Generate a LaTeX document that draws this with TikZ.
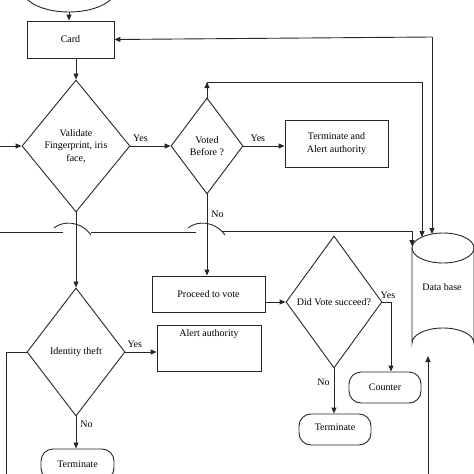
\documentclass[tikz,border=0pt]{standalone}
\usepackage{fontspec}
\setmainfont{Liberation Serif}
\usetikzlibrary{shapes.geometric,arrows.meta}
\begin{document}
\begin{tikzpicture}[x=1pt,y=-1pt,
  every node/.style={font=\fontsize{10}{12.5}\selectfont},
  ln/.style={line width=0.9pt,draw=black!85},
  arr/.style={ln,-{Triangle[length=6pt,width=5pt]}},
  boxn/.style={draw=black!85,line width=0.9pt,rectangle,inner sep=0pt},
  termn/.style={draw=black!85,line width=0.9pt,rectangle,rounded corners=12pt,inner sep=0pt},
  dia/.style={draw=black!85,line width=0.9pt,diamond,inner sep=0pt,align=center},
  lbl/.style={inner sep=0pt}]
\useasboundingbox (0,0) rectangle (474,474);
\clip (0,0) rectangle (474,474);
% nodes
\node[draw=black!85,line width=0.9pt,ellipse,minimum width=92pt,minimum height=44pt] (start) at (69,-10) {};
\node[boxn,minimum width=87pt,minimum height=37pt] (card) at (70.5,39.5) {Card};
\node[dia,minimum width=108pt,minimum height=132pt] (d1) at (76,146) {Validate\\Fingerprint, iris\\face,};
\node[dia,minimum width=72pt,minimum height=96pt] (d2) at (207,146) {Voted\\Before ?};
\node[boxn,minimum width=103pt,minimum height=47pt,align=center] (tea) at (336.5,143.5) {Terminate and\\Alert authority};
\node[dia,minimum width=98pt,minimum height=128pt] (d3) at (76,352) {Identity theft};
\node[boxn,minimum width=104pt,minimum height=46pt,label={[anchor=north,yshift=-5pt,inner sep=0pt]north:Alert authority}] (alert) at (209,348) {};
\node[termn,minimum width=73pt,minimum height=31pt] (term1) at (77.5,464.5) {Terminate};
\node[boxn,minimum width=113pt,minimum height=36pt] (proceed) at (208.5,294) {Proceed to vote};
\node[dia,minimum width=96pt,minimum height=132pt] (d4) at (334,302) {Did Vote succeed?};
\node[termn,minimum width=72pt,minimum height=31pt] (counter) at (385,387.5) {\raisebox{-5pt}{Counter}};
\node[termn,minimum width=72pt,minimum height=31pt] (term2) at (335,429.5) {\raisebox{5pt}{Terminate}};
% database cylinder
\node[lbl,minimum width=62pt,minimum height=125pt] (db) at (443,295.5) {};
\node[lbl] (dbtext) at (442,287) {Data base};
\draw[ln] (412,248) -- (412,343) arc[start angle=180,end angle=360,x radius=31,y radius=15] -- (474,248);
\draw[ln] (443,248) ellipse [x radius=31,y radius=15];
% coordinates
\coordinate (inL) at (0,146);
\coordinate (c1) at (207,82);
\coordinate (c1r) at (422,82);
\coordinate (dbt1) at (422,237);
\coordinate (c2) at (432,37);
\coordinate (dbt2) at (432,234);
\coordinate (h0) at (0,232);
\coordinate (h1) at (63,232);
\coordinate (h2) at (91,232);
\coordinate (h3) at (196,232);
\coordinate (h4) at (222,231);
\coordinate (h5) at (412,231);
\coordinate (dbl) at (412,246);
\coordinate (c3) at (391,302);
\coordinate (bot) at (428,474);
\coordinate (dbb) at (428,356);
\coordinate (lft) at (6,352);
\coordinate (lftb) at (6,474);
% connectors
\draw[arr] (start.south) -- (start.south |- card.north);
\draw[arr] (card.south -| d1.north) -- (d1.north);
\draw[arr] (inL) -- (d1.west);
\draw[arr] (d1.east) -- node[lbl,pos=0.25,above=4pt] {Yes} (d2.west);
\draw[arr] (d2.east) -- node[lbl,pos=0.35,above=4pt] {Yes} (d2.east -| tea.west);
\draw[arr] (d2.north) -- (c1);
\draw[arr] (c1) -- (c1r) -- (dbt1);
\draw[arr] (c2) -- (card.east);
\draw[arr] (c2) -- (dbt2);
\draw[ln] (h0) -- (h1);
\draw[ln] (54,228) .. controls (62,221) and (80,220) .. (91,235);
\draw[ln] (h2) -- (h3);
\draw[ln] (188,228) .. controls (196,221) and (214,220) .. (225,235);
\draw[arr] (h4) -- (h5) -- (dbl);
\draw[arr] (d1.south) -- (d3.north);
\draw[arr] (d2.south) -- node[lbl,pos=0.25,right=4pt] {No} (d2.south |- proceed.north);
\draw[ln] (d3.west) -- (lft) -- (lftb);
\draw[arr] (d3.east) -- node[lbl,pos=0.3,above=4pt] {Yes} (d3.east -| alert.west);
\draw[arr] (d3.south) -- node[lbl,pos=0.25,right=4pt] {No} (d3.south |- term1.north);
\draw[arr] (proceed.east |- d4.west) -- (d4.west);
\draw[arr] (d4.east) -- (c3) -- (c3 |- counter.north);
\node[lbl] at (388,295) {Yes};
\draw[arr] (d4.south) -- node[lbl,pos=0.3,left=4pt] {No} (d4.south |- term2.north);
\draw[arr] (bot) -- (dbb);
\end{tikzpicture}
\end{document}
